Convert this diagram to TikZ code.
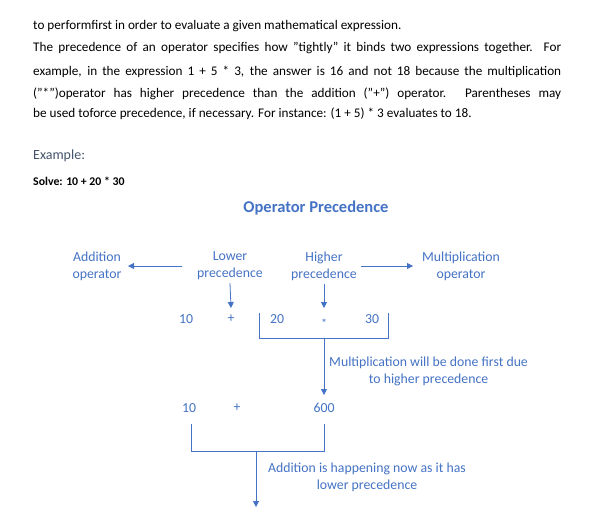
\documentclass[tikz,border=0pt]{standalone}
\usepackage{fontspec}
\setmainfont{Carlito}
\usetikzlibrary{arrows.meta}
\definecolor{blu}{HTML}{4472C4}
\definecolor{gtxt}{HTML}{44546A}
\tikzset{
 lbl/.style={text=blu,font=\fontsize{13.8}{17}\selectfont,align=center,inner sep=0pt},
 arr/.style={draw=blu,line width=0.8pt,-{Triangle[width=6pt,length=6pt]}},
 ln/.style={draw=blu,line width=0.8pt},
 bl/.style={anchor=base west,inner sep=0pt,font=\fontsize{13.2}{16}\selectfont}
}
\begin{document}
\begin{tikzpicture}[x=1pt,y=-1pt]
\useasboundingbox (0,0) rectangle (601,519);
\node[bl] (l1) at (33,30) {to performfirst in order to evaluate a given mathematical expression.};
\node[bl] (l2) at (33,52) {\makebox[528pt][s]{The precedence of an operator specifies how "tightly" it binds two expressions together. For}};
\node[bl] (l3) at (33,75) {\makebox[528pt][s]{example, in the expression 1 + 5 * 3, the answer is 16 and not 18 because the multiplication}};
\node[bl] (l4) at (33,97) {\makebox[528pt][s]{("*")operator has higher precedence than the addition ("+") operator. Parentheses may}};
\node[bl] (l5) at (33,117) {be used toforce precedence, if necessary. For instance: (1 + 5) * 3 evaluates to 18.};
\node[anchor=west,inner sep=0pt,text=gtxt,font=\fontsize{14}{18}\selectfont] (ex) at (33,156) {Example:};
\node[anchor=west,inner sep=0pt,font=\bfseries\fontsize{11.8}{14}\selectfont] (solve) at (33,181) {Solve: 10 + 20 * 30};
\node[lbl,font=\bfseries\fontsize{16.5}{18}\selectfont] (title) at (316,208) {Operator Precedence};
\node[lbl] (add) at (97,266) {Addition\\operator};
\node[lbl] (low) at (230,266) {Lower\\precedence};
\node[lbl] (high) at (324,266) {Higher\\precedence};
\node[lbl] (mul) at (461,266) {Multiplication\\operator};
\coordinate (la) at (182,266); \coordinate (lb) at (128,266);
\coordinate (ra) at (361,266); \coordinate (rb) at (413,266);
\draw[arr] (la) -- (lb);
\draw[arr] (ra) -- (rb);
\node[lbl] (n10) at (186,319) {10};
\node[lbl] (plus) at (231,319) {+};
\node[lbl] (n20) at (277,319) {20};
\node[lbl,font=\fontsize{12}{12}\selectfont] (times) at (324,323) {*};
\node[lbl] (n30) at (372,319) {30};
\draw[arr] (low.south) ++(0,3) -- (231,308);
\draw[arr] (high.south) ++(0,3) -- (324,308);
\coordinate (b1l) at (259,313); \coordinate (b1r) at (388,313);
\coordinate (b1m) at (324,338); \coordinate (b1e) at (324,395);
\draw[ln] (b1l) |- (b1r |- b1m) -- (b1r);
\node[lbl] (n600) at (324,408) {600};
\draw[arr] (b1m) -- (b1e);
\node[lbl,anchor=west] (m1) at (329,371) {Multiplication will be done first due\\to higher precedence};
\node[lbl] (m10) at (189,408) {10};
\node[lbl] (mplus) at (237,408) {+};
\coordinate (b2l) at (191,424); \coordinate (b2r) at (324,424);
\coordinate (b2m) at (256,451); \coordinate (end) at (256,507);
\draw[ln] (b2l) |- (b2r |- b2m) -- (b2r);
\draw[arr] (b2m) -- (end);
\node[lbl] (a1) at (367,477) {Addition is happening now as it has\\lower precedence};
\end{tikzpicture}
\end{document}
